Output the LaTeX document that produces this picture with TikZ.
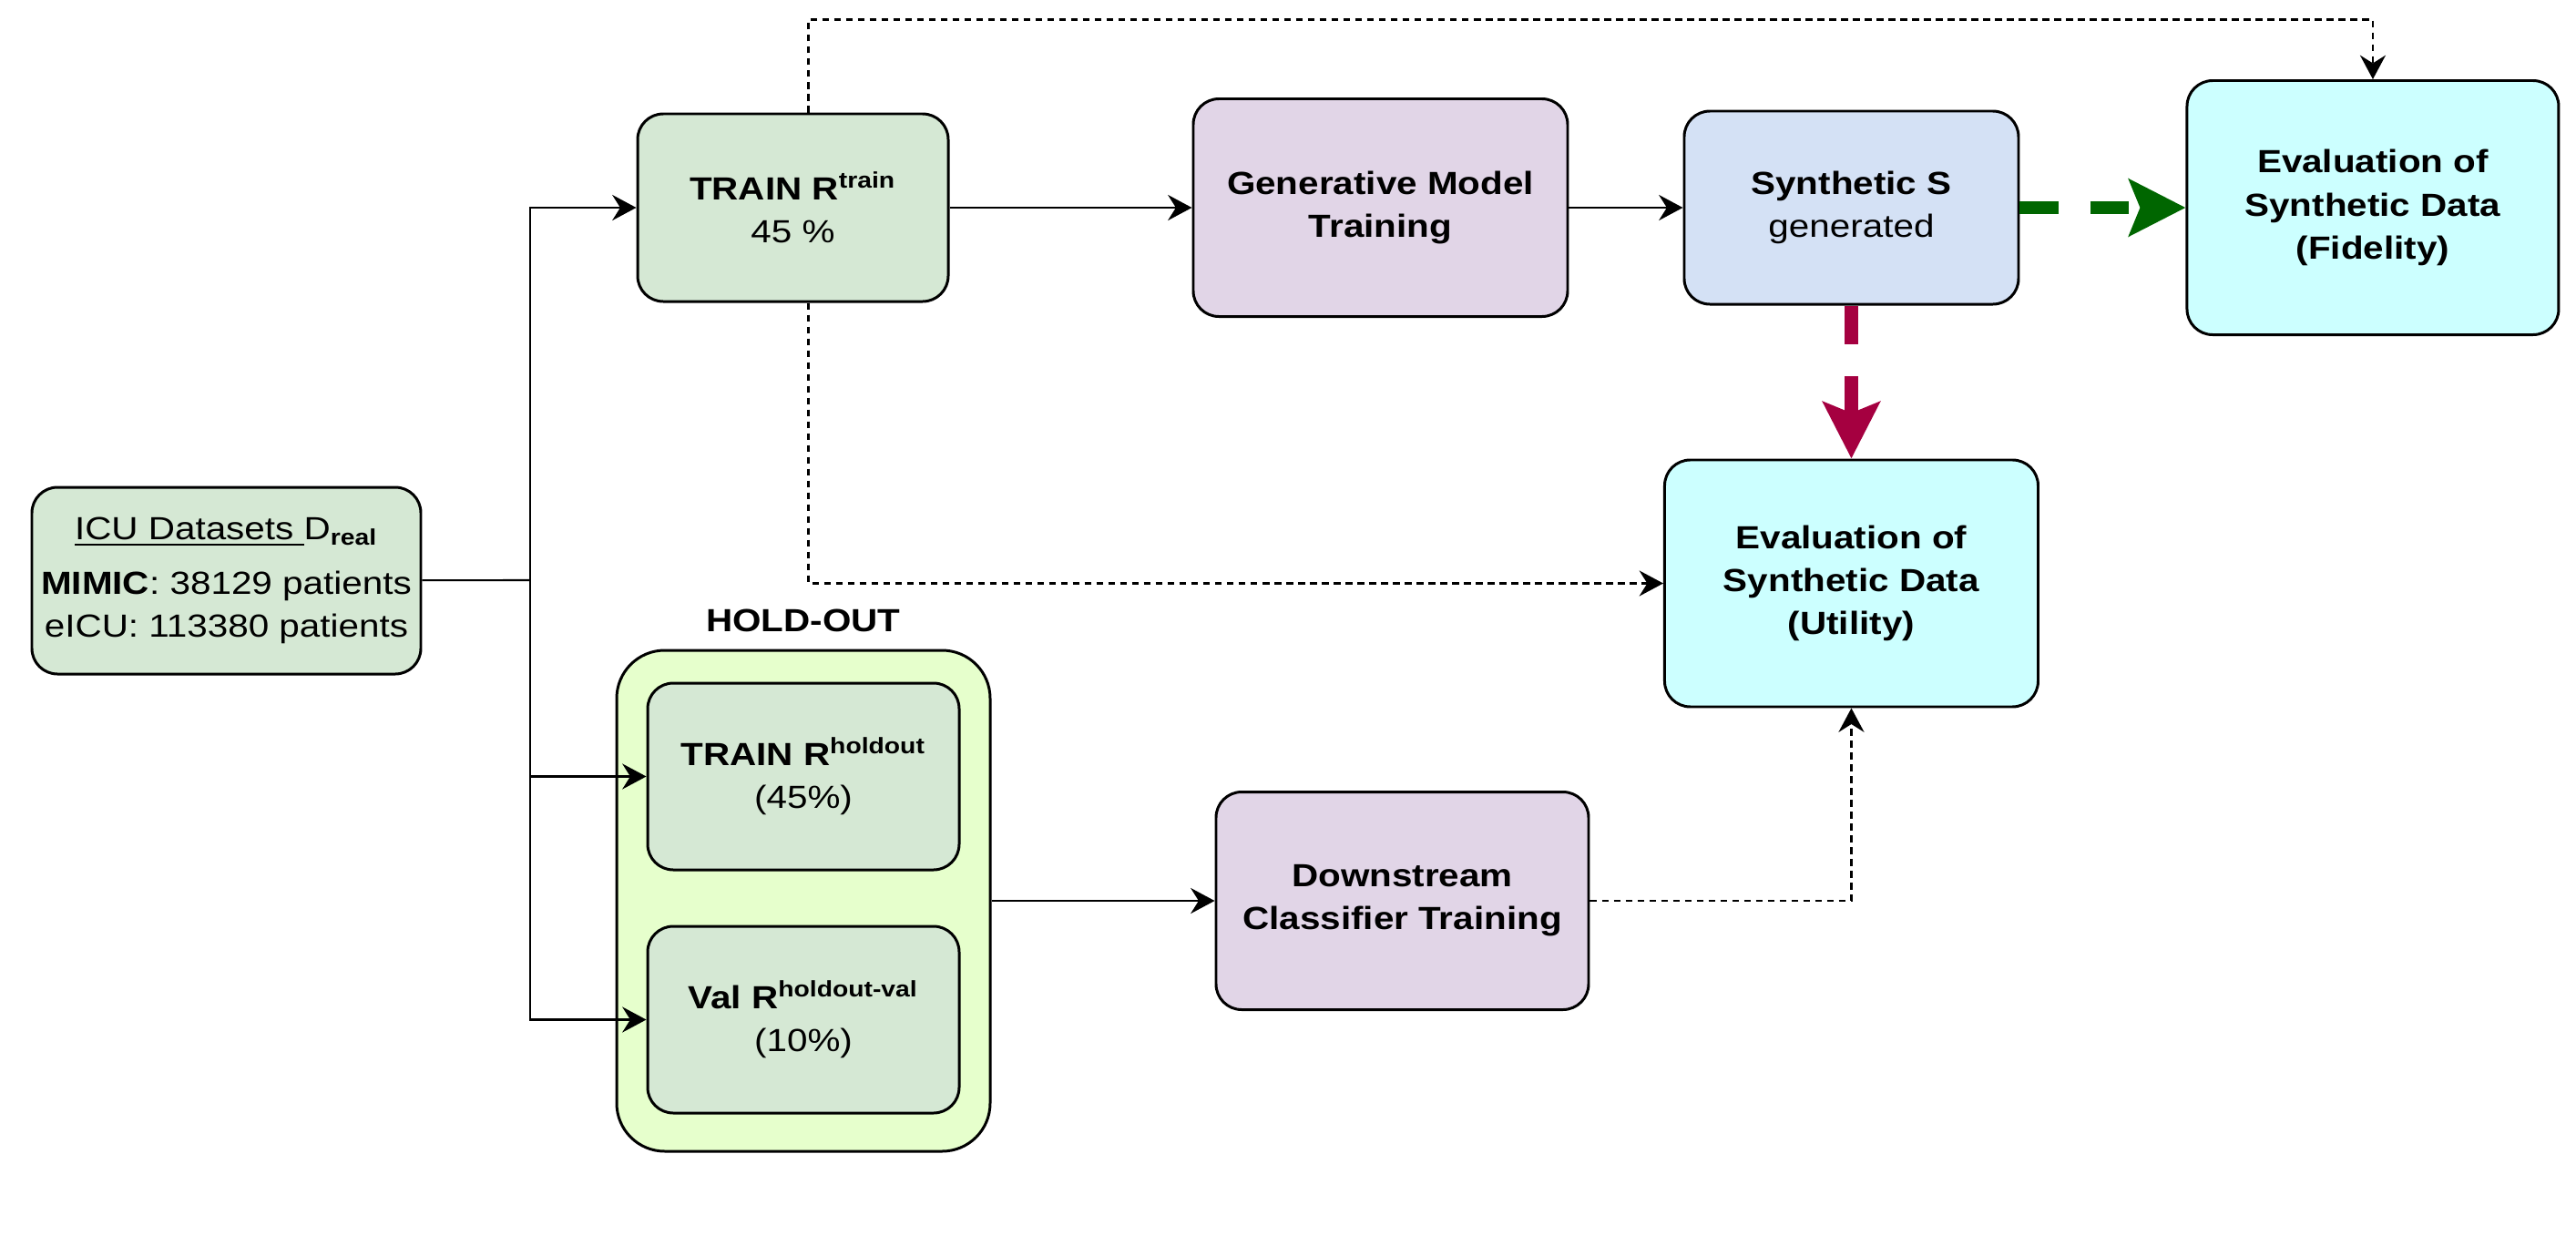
\documentclass[tikz,border=0pt]{standalone}
\usepackage{fontspec}
\setmainfont{Liberation Sans}[FakeStretch=1.15]
\usepackage{tikz}
\usetikzlibrary{positioning,arrows.meta}

\definecolor{boxgreen}{HTML}{D5E8D4}
\definecolor{boxpurple}{HTML}{E1D5E7}
\definecolor{boxblue}{HTML}{D4E1F5}
\definecolor{boxcyan}{HTML}{CCFFFF}
\definecolor{holdgreen}{HTML}{E6FFCC}
\definecolor{fidgreen}{HTML}{006600}
\definecolor{utilred}{HTML}{A50040}

\begin{document}
\begin{tikzpicture}[->,>={Stealth[length=7.5pt,width=8pt,inset=2.5pt]},line width=0.6pt,main node/.style={rectangle,rounded corners=8pt,draw,line width=0.85pt,align=center,inner sep=0pt,font=\fontsize{10}{13.4}\selectfont},dotted edge/.style={dash pattern=on 2.2pt off 1.5pt},thick edge/.style={line width=4pt,dash pattern=on 12pt off 10pt,-{Stealth[length=0.62cm,width=0.62cm,inset=0.12cm]}}]

			\useasboundingbox (0,0) rectangle (28.28,-13.68);

			\node[main node,fill=boxgreen,minimum width=4.27cm,minimum height=2.05cm] (icu) at (2.485,-6.375) {\underline{ICU Datasets }D\textsubscript{\textbf{real}}\\[3.5pt]\textbf{MIMIC}: 38129 patients\\eICU: 113380 patients};
			\node[main node,fill=boxgreen,minimum width=3.41cm,minimum height=2.06cm] (train) at (8.705,-2.28) {\textbf{TRAIN R\textsuperscript{train}}\\45 \%};
			\node[main node,fill=boxpurple,minimum width=4.11cm,minimum height=2.39cm] (gen) [right=2.66cm of train] {\textbf{Generative Model}\\\textbf{Training}};
			\node[main node,fill=boxblue,minimum width=3.67cm,minimum height=2.12cm] (syn) [right=1.25cm of gen] {\textbf{Synthetic S}\\generated};
			\node[main node,fill=boxcyan,minimum width=4.08cm,minimum height=2.79cm] (fid) [right=1.82cm of syn] {\textbf{Evaluation of}\\\textbf{Synthetic Data}\\\textbf{(Fidelity)}};
			\node[main node,fill=boxcyan,minimum width=4.10cm,minimum height=2.71cm] (util) [below=1.68cm of syn] {\textbf{Evaluation of}\\\textbf{Synthetic Data}\\\textbf{(Utility)}};

			\node[main node,fill=holdgreen,rounded corners=15pt,minimum width=4.10cm,minimum height=5.5cm,label={[font=\bfseries,label distance=0.6mm]above:HOLD-OUT}] (hold) at (8.82,-9.89) {};
			\node[main node,fill=boxgreen,minimum width=3.42cm,minimum height=2.05cm] (htrain) at (8.82,-8.525) {\textbf{TRAIN R\textsuperscript{holdout}}\\(45\%)};
			\node[main node,fill=boxgreen,minimum width=3.42cm,minimum height=2.05cm] (hval) at (8.82,-11.195) {\textbf{Val R\textsuperscript{holdout-val}}\\(10\%)};
			\node[main node,fill=boxpurple,minimum width=4.09cm,minimum height=2.39cm] (down) [right=2.45cm of hold] {\textbf{Downstream}\\\textbf{Classifier Training}};

			% split of the real data
			\coordinate (split) at (5.82,-6.37);
			\draw[-] (icu) -- (split);
			\draw (split) |- (train);
			\draw (split) |- (htrain);
			\draw (split) |- (hval);

			\draw (train) -- (gen);
			\draw (gen) -- (syn);
			\draw[thick edge,fidgreen] (syn.east) -- (syn.east -| fid.west);
			\draw[thick edge,utilred] (syn.south) -- (syn.south |- util.north);

			% evaluation against the training data
			\draw[dotted edge] ([xshift=0.17cm]train.north) -- ++(0,1.02) -| (fid.north);
			\draw[dotted edge] ([xshift=0.17cm]train.south) |- (util.west);

			\draw (hold) -- (down);
			\draw[dotted edge] (down) -| (util.south);
			\end{tikzpicture}
\end{document}
